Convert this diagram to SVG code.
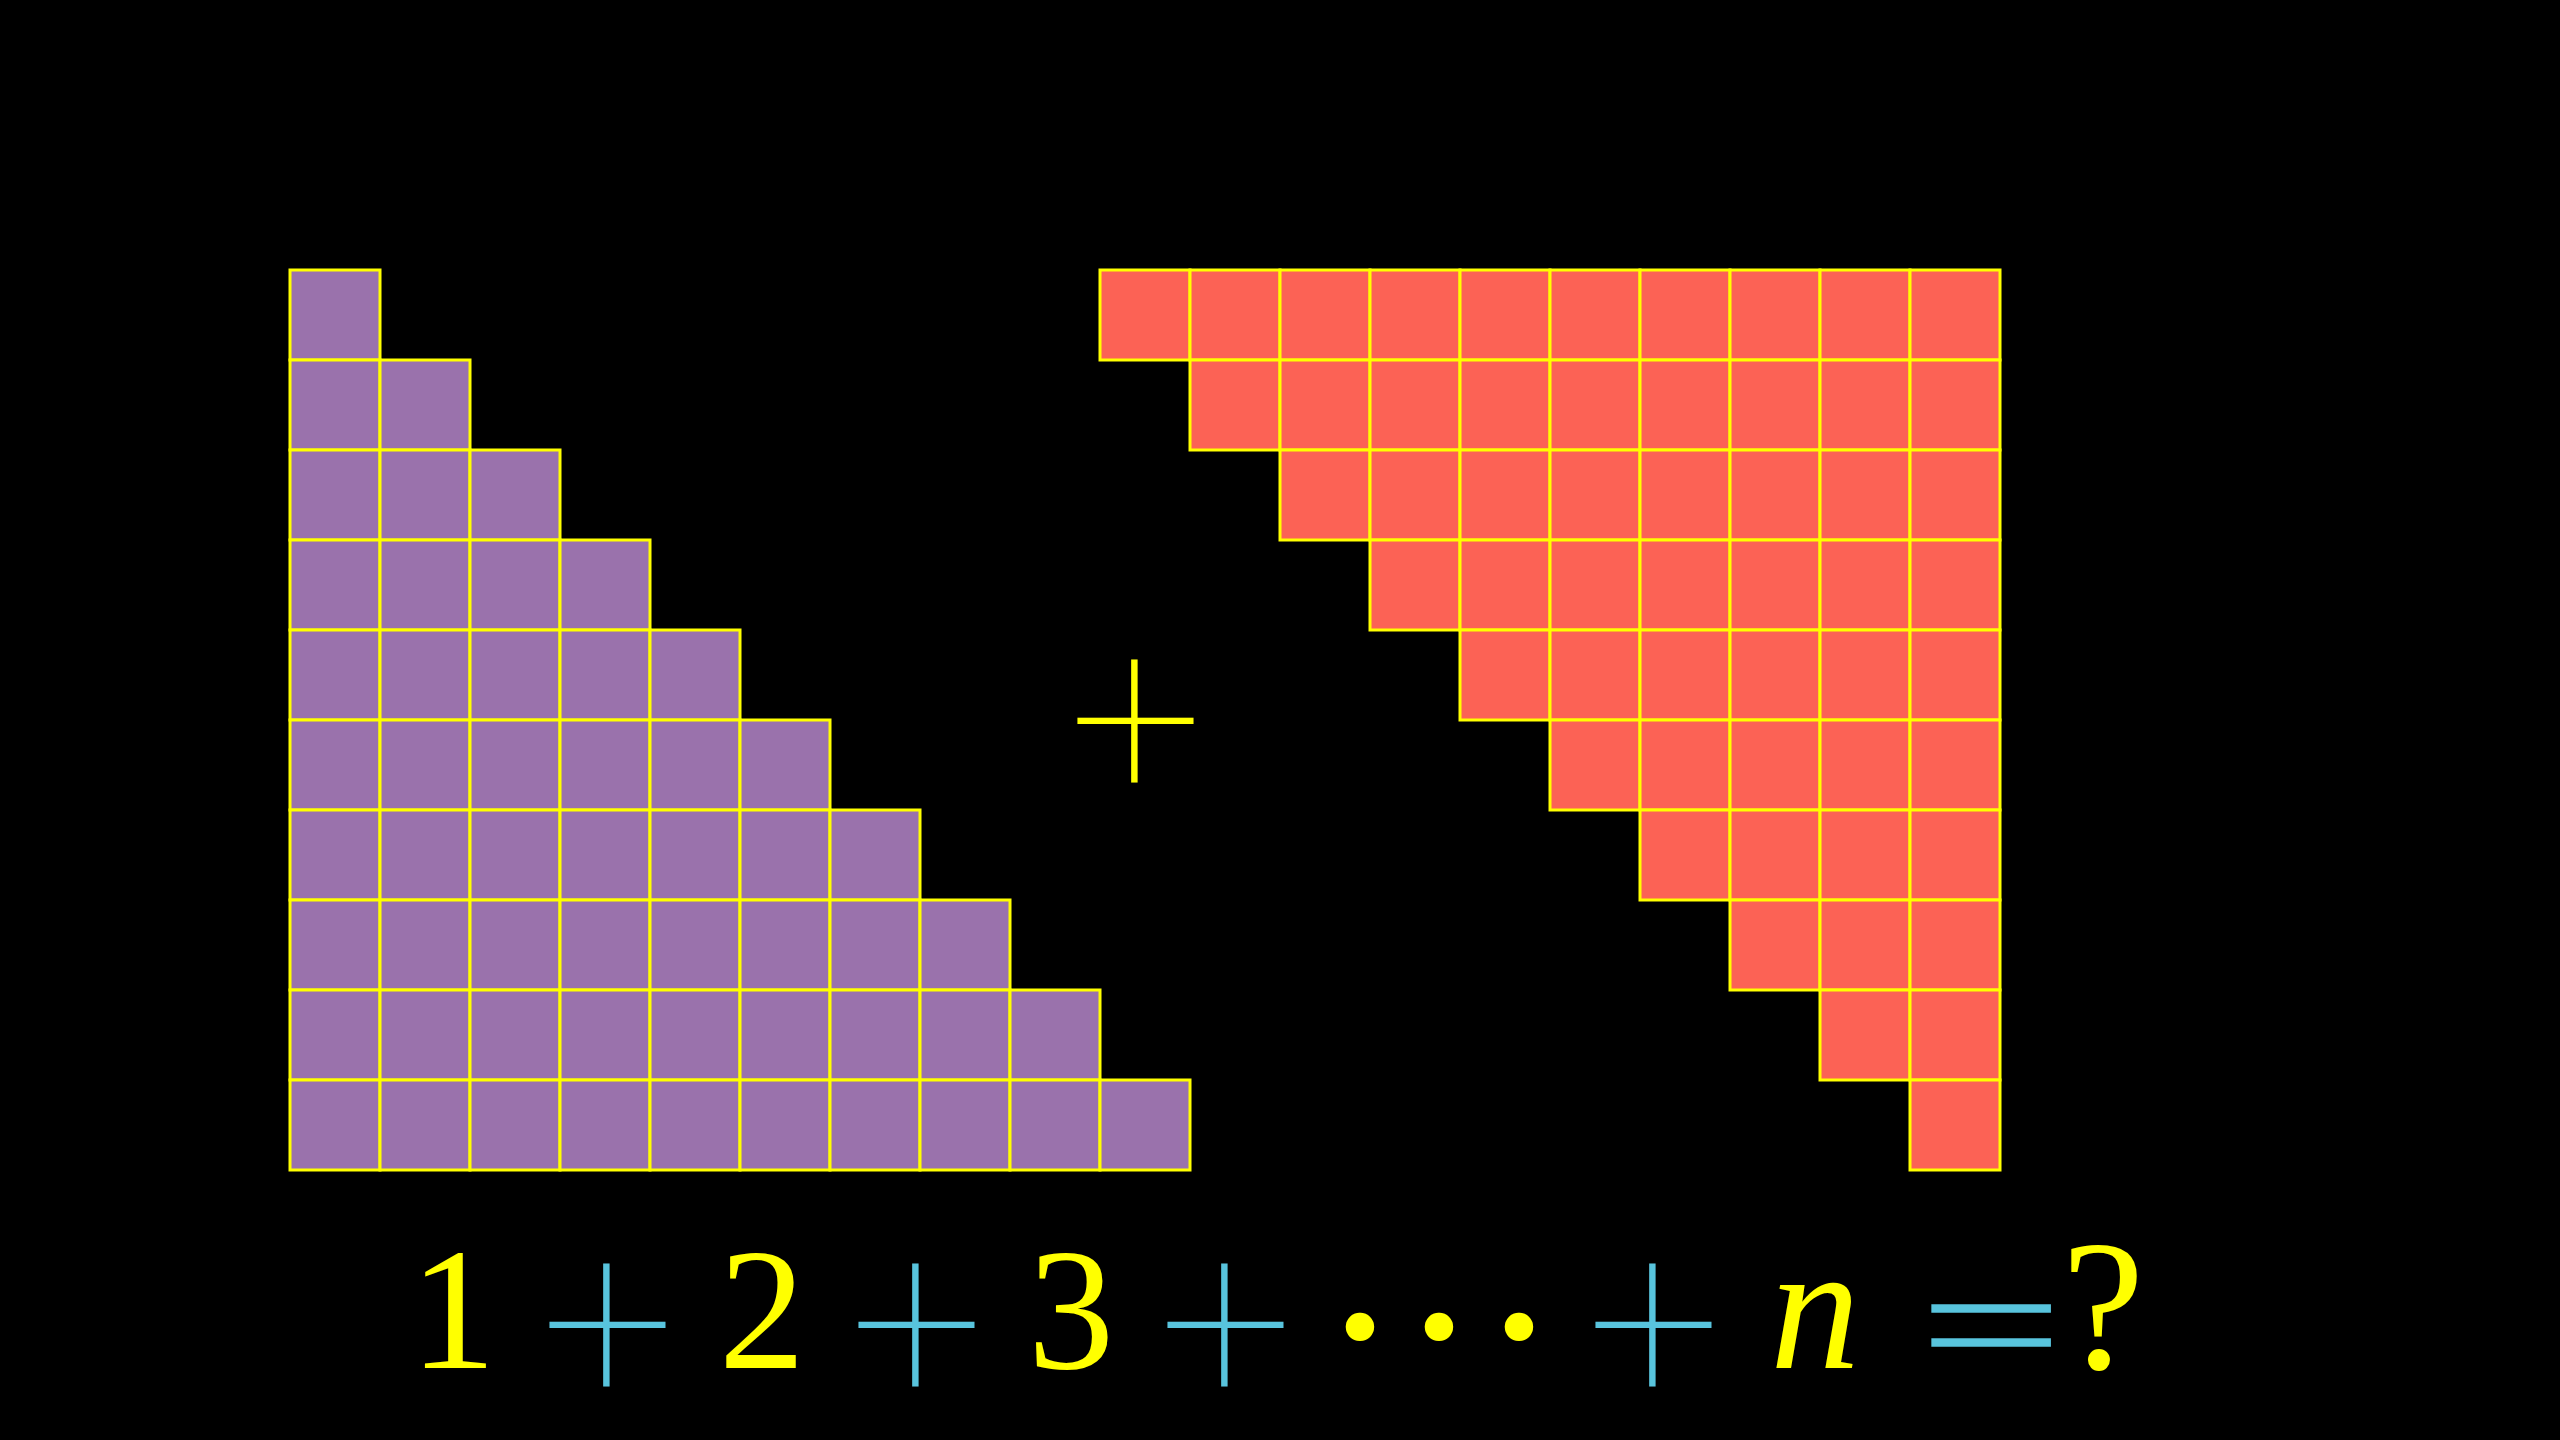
<svg xmlns="http://www.w3.org/2000/svg" width="2560" height="1440" viewBox="0 0 2560 1440">
<style>
.p{fill:#9A72AC;stroke:#FFFF00;stroke-width:3}
.r{fill:#FC6255;stroke:#FFFF00;stroke-width:3}
.t{font-family:"Liberation Serif",serif;fill:#FFFF00}
.b{font-family:"Liberation Serif",serif;fill:#58C4DD}
.op{font-family:Roboto,"Liberation Sans",sans-serif;font-weight:100}
</style>
<rect width="2560" height="1440" fill="#000"/>
<g id="purple-triangle">
<rect class="p" x="290" y="270" width="90" height="90"/>
<rect class="p" x="290" y="360" width="90" height="90"/><rect class="p" x="380" y="360" width="90" height="90"/>
<rect class="p" x="290" y="450" width="90" height="90"/><rect class="p" x="380" y="450" width="90" height="90"/><rect class="p" x="470" y="450" width="90" height="90"/>
<rect class="p" x="290" y="540" width="90" height="90"/><rect class="p" x="380" y="540" width="90" height="90"/><rect class="p" x="470" y="540" width="90" height="90"/><rect class="p" x="560" y="540" width="90" height="90"/>
<rect class="p" x="290" y="630" width="90" height="90"/><rect class="p" x="380" y="630" width="90" height="90"/><rect class="p" x="470" y="630" width="90" height="90"/><rect class="p" x="560" y="630" width="90" height="90"/><rect class="p" x="650" y="630" width="90" height="90"/>
<rect class="p" x="290" y="720" width="90" height="90"/><rect class="p" x="380" y="720" width="90" height="90"/><rect class="p" x="470" y="720" width="90" height="90"/><rect class="p" x="560" y="720" width="90" height="90"/><rect class="p" x="650" y="720" width="90" height="90"/><rect class="p" x="740" y="720" width="90" height="90"/>
<rect class="p" x="290" y="810" width="90" height="90"/><rect class="p" x="380" y="810" width="90" height="90"/><rect class="p" x="470" y="810" width="90" height="90"/><rect class="p" x="560" y="810" width="90" height="90"/><rect class="p" x="650" y="810" width="90" height="90"/><rect class="p" x="740" y="810" width="90" height="90"/><rect class="p" x="830" y="810" width="90" height="90"/>
<rect class="p" x="290" y="900" width="90" height="90"/><rect class="p" x="380" y="900" width="90" height="90"/><rect class="p" x="470" y="900" width="90" height="90"/><rect class="p" x="560" y="900" width="90" height="90"/><rect class="p" x="650" y="900" width="90" height="90"/><rect class="p" x="740" y="900" width="90" height="90"/><rect class="p" x="830" y="900" width="90" height="90"/><rect class="p" x="920" y="900" width="90" height="90"/>
<rect class="p" x="290" y="990" width="90" height="90"/><rect class="p" x="380" y="990" width="90" height="90"/><rect class="p" x="470" y="990" width="90" height="90"/><rect class="p" x="560" y="990" width="90" height="90"/><rect class="p" x="650" y="990" width="90" height="90"/><rect class="p" x="740" y="990" width="90" height="90"/><rect class="p" x="830" y="990" width="90" height="90"/><rect class="p" x="920" y="990" width="90" height="90"/><rect class="p" x="1010" y="990" width="90" height="90"/>
<rect class="p" x="290" y="1080" width="90" height="90"/><rect class="p" x="380" y="1080" width="90" height="90"/><rect class="p" x="470" y="1080" width="90" height="90"/><rect class="p" x="560" y="1080" width="90" height="90"/><rect class="p" x="650" y="1080" width="90" height="90"/><rect class="p" x="740" y="1080" width="90" height="90"/><rect class="p" x="830" y="1080" width="90" height="90"/><rect class="p" x="920" y="1080" width="90" height="90"/><rect class="p" x="1010" y="1080" width="90" height="90"/><rect class="p" x="1100" y="1080" width="90" height="90"/>
</g>
<g id="red-triangle">
<rect class="r" x="1100" y="270" width="90" height="90"/><rect class="r" x="1190" y="270" width="90" height="90"/><rect class="r" x="1280" y="270" width="90" height="90"/><rect class="r" x="1370" y="270" width="90" height="90"/><rect class="r" x="1460" y="270" width="90" height="90"/><rect class="r" x="1550" y="270" width="90" height="90"/><rect class="r" x="1640" y="270" width="90" height="90"/><rect class="r" x="1730" y="270" width="90" height="90"/><rect class="r" x="1820" y="270" width="90" height="90"/><rect class="r" x="1910" y="270" width="90" height="90"/>
<rect class="r" x="1190" y="360" width="90" height="90"/><rect class="r" x="1280" y="360" width="90" height="90"/><rect class="r" x="1370" y="360" width="90" height="90"/><rect class="r" x="1460" y="360" width="90" height="90"/><rect class="r" x="1550" y="360" width="90" height="90"/><rect class="r" x="1640" y="360" width="90" height="90"/><rect class="r" x="1730" y="360" width="90" height="90"/><rect class="r" x="1820" y="360" width="90" height="90"/><rect class="r" x="1910" y="360" width="90" height="90"/>
<rect class="r" x="1280" y="450" width="90" height="90"/><rect class="r" x="1370" y="450" width="90" height="90"/><rect class="r" x="1460" y="450" width="90" height="90"/><rect class="r" x="1550" y="450" width="90" height="90"/><rect class="r" x="1640" y="450" width="90" height="90"/><rect class="r" x="1730" y="450" width="90" height="90"/><rect class="r" x="1820" y="450" width="90" height="90"/><rect class="r" x="1910" y="450" width="90" height="90"/>
<rect class="r" x="1370" y="540" width="90" height="90"/><rect class="r" x="1460" y="540" width="90" height="90"/><rect class="r" x="1550" y="540" width="90" height="90"/><rect class="r" x="1640" y="540" width="90" height="90"/><rect class="r" x="1730" y="540" width="90" height="90"/><rect class="r" x="1820" y="540" width="90" height="90"/><rect class="r" x="1910" y="540" width="90" height="90"/>
<rect class="r" x="1460" y="630" width="90" height="90"/><rect class="r" x="1550" y="630" width="90" height="90"/><rect class="r" x="1640" y="630" width="90" height="90"/><rect class="r" x="1730" y="630" width="90" height="90"/><rect class="r" x="1820" y="630" width="90" height="90"/><rect class="r" x="1910" y="630" width="90" height="90"/>
<rect class="r" x="1550" y="720" width="90" height="90"/><rect class="r" x="1640" y="720" width="90" height="90"/><rect class="r" x="1730" y="720" width="90" height="90"/><rect class="r" x="1820" y="720" width="90" height="90"/><rect class="r" x="1910" y="720" width="90" height="90"/>
<rect class="r" x="1640" y="810" width="90" height="90"/><rect class="r" x="1730" y="810" width="90" height="90"/><rect class="r" x="1820" y="810" width="90" height="90"/><rect class="r" x="1910" y="810" width="90" height="90"/>
<rect class="r" x="1730" y="900" width="90" height="90"/><rect class="r" x="1820" y="900" width="90" height="90"/><rect class="r" x="1910" y="900" width="90" height="90"/>
<rect class="r" x="1820" y="990" width="90" height="90"/><rect class="r" x="1910" y="990" width="90" height="90"/>
<rect class="r" x="1910" y="1080" width="90" height="90"/>
</g>
<g id="plus-sign">
<text class="t op" x="1136" y="799" font-size="238" text-anchor="middle">+</text>
</g>
<g id="formula" text-anchor="middle">
<text class="t" x="453" y="1368" font-size="173">1</text>
<text class="b op" x="608" y="1403" font-size="238">+</text>
<text class="t" x="762" y="1368" font-size="173">2</text>
<text class="b op" x="917" y="1403" font-size="238">+</text>
<text class="t" x="1071" y="1368" font-size="173">3</text>
<text class="b op" x="1226" y="1403" font-size="238">+</text>
<text class="t" x="1360 1439 1519" y="1406" font-size="240">···</text>
<text class="b op" x="1654" y="1403" font-size="238">+</text>
<text class="t" x="1815" y="1368" font-size="180" font-style="italic">n</text>
<text class="b" transform="translate(1991,1325) scale(1,0.66)" x="0" y="86" font-size="257">=</text>
<text class="t" x="2103" y="1368" font-size="186">?</text>
</g>
</svg>
